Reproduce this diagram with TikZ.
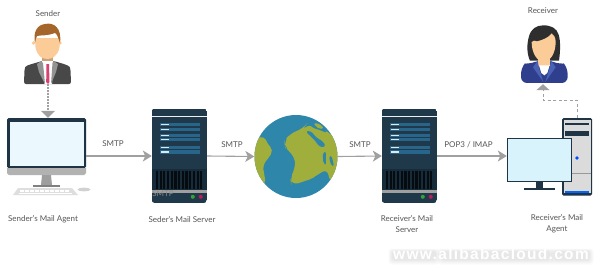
\documentclass[tikz,border=0pt]{standalone}
\usepackage{fontspec}
\setmainfont{Lato}
\newfontfamily\sitefont[LetterSpace=8.4]{Liberation Sans}
\usetikzlibrary{arrows.meta}
\definecolor{linegray}{HTML}{A0A0A0}
\definecolor{txt}{HTML}{555555}
\definecolor{navy}{HTML}{1F3444}
\definecolor{srvbody}{HTML}{20394A}
\definecolor{srvdark}{HTML}{172C3A}
\definecolor{srvrow}{HTML}{27658A}
\definecolor{ocean}{HTML}{2E86AB}
\definecolor{land}{HTML}{A0AE3C}
\definecolor{skin}{HTML}{FBCB98}
\definecolor{hairbrown}{HTML}{A5662B}
\definecolor{suitgray}{HTML}{484848}
\definecolor{suitblue}{HTML}{2F3F8E}
\definecolor{lapelblue}{HTML}{4A62B4}
\definecolor{tiepink}{HTML}{D9426F}
\tikzset{
  x=1pt,y=-1pt,
  label text/.style={font=\fontsize{8}{10}\selectfont,text=txt,align=center,inner sep=0pt},
  iconbox/.style={inner sep=0pt,minimum width=#1},
  flow/.style={draw=linegray,line width=1.1pt,-{Stealth[length=9pt,width=11pt,inset=2.5pt]}},
  fetch/.style={draw=linegray,line width=2pt,dash pattern=on 2pt off 1pt,-{Stealth[length=7pt,width=14pt,inset=0pt]}},
  notify/.style={draw=linegray,line width=.9pt,dash pattern=on 3pt off 2.5pt,-{Stealth[length=6pt,width=13pt,inset=0pt]}},
  mailserver/.pic={
    \begin{scope}
      \clip[rounded corners=2.5pt] (0,0) rectangle (55,94);
      \fill[srvbody] (0,0) rectangle (55,94);
      \fill[srvdark] (0,60) rectangle (55,81);
      \fill[white!92!srvbody] (0,7) rectangle (55,8);
      \foreach \yy in {14,18.8,24.8,29,36.8,41.2}{
        \fill[srvrow] (8,\yy) rectangle (48,\yy+3.6);
      }
      \foreach \yy in {15.5,20,26.3,30.5,38.2,42.6}{
        \fill[white!85!srvrow] (9,\yy) rectangle (17,\yy+1.1);
      }
      \foreach \i in {0,...,12}{
        \fill[black!80!srvbody] (4+\i*3.7,62) rectangle (6.2+\i*3.7,80.5);
      }
      \fill[linegray] (0,81.4) rectangle (55,84);
      \fill[green!55!black!80!white] (41,88) circle (2);
      \fill[red!60!black!70!magenta!90!white] (49,88) circle (2);
    \end{scope}
  }
}
\begin{document}
\begin{tikzpicture}
\useasboundingbox (0,0) rectangle (600,274);
\fill[white] (0,0) rectangle (600,274);

% anchor boxes for the icons
\node[iconbox=48pt,minimum height=62pt] (sender) at (48,53) {};
\node[iconbox=79pt,minimum height=76pt] (agentA) at (46.5,156) {};
\node[iconbox=55pt,minimum height=94pt] (serverA) at (179.5,156) {};
\node[circle,inner sep=0pt,minimum size=83pt] (globe) at (296,156.5) {};
\node[iconbox=55pt,minimum height=94pt] (serverB) at (409.5,156) {};
\node[iconbox=65pt,minimum height=52pt] (agentB) at (539.5,156) {};
\node[iconbox=30pt,minimum height=77pt] (tower) at (577,156.5) {};
\node[iconbox=46pt,minimum height=62pt] (receiver) at (544,53) {};

% sender figure
\fill[suitgray,rounded corners=2pt] (24,84) -- (24.5,69) .. controls (26,65) and (36,63) .. (42,61) -- (54,61) .. controls (60,63) and (69,65) .. (70.5,69) -- (71,84) -- cycle;
\fill[black!20!skin] (42,56) rectangle (53,62);
\fill[white] (42,61) -- (53,61) -- (52,84) -- (44.5,84) -- cycle;
\fill[gray!85] (41,61) -- (37,64) -- (39,72) -- (45,84) -- (43,63) -- cycle;
\fill[gray!85] (53.5,61) -- (58,64) -- (56,72) -- (51,84) -- (52.5,63) -- cycle;
\fill[tiepink] (46.5,64) -- (49,64) -- (49.5,82) -- (48,84) -- (46.2,82) -- cycle;
\fill[skin] (33.5,43) circle (1.8) (60,43) circle (1.8);
\fill[skin] (35,38) -- (60,38) -- (59.5,47) .. controls (58,56) and (52,59) .. (47.5,59) .. controls (42,59) and (37,56) .. (35.5,47) -- cycle;
\fill[hairbrown] (35,43) .. controls (33,32) and (37,25) .. (45,24) .. controls (54,22) and (62,28) .. (60,43) .. controls (58,37) and (57,34) .. (55,33) .. controls (48,36) and (40,35) .. (37,36) .. controls (36,38) and (35.5,40) .. (35,43) -- cycle;

% sender's desktop
\fill[navy,rounded corners=1.5pt] (7,118) rectangle (86,168);
\fill[white!92!cyan] (9.5,122) rectangle (83.5,165.5);
\fill[black!30] (7,168) -- (86,168) -- (86,173) -- (84,175) -- (9,175) -- (7,173) -- cycle;
\fill[black!38] (42,175) -- (51,175) -- (52,185) -- (41,185) -- cycle;
\fill[black!50] (33,185) rectangle (60,186.5);
\fill[black!13] (18,188) -- (72,188) -- (78,195) -- (13,195) -- cycle;
\foreach \i in {0,...,9}{\fill[white] (20+\i*5,189.5) rectangle (23.5+\i*5,191.5);}
\fill[white] (19,192.5) rectangle (72,193.7);
\fill[black!18] (84,189.5) ellipse (6.5 and 1.8);

% mail servers
\pic at (serverA.north west) {mailserver};
\pic at (serverB.north west) {mailserver};
\node[font=\fontsize{8}{10}\selectfont,text=black!45,inner sep=0pt] (stray) at (163,194) {SMTP};

% globe with its continents
\fill[ocean] (globe) circle (41.5);
\begin{scope}
  \clip (globe) circle (41.5);
  \begin{scope}[shift={(240,100)},x=.3333pt,y=-.3333pt]
    \fill[land,rounded corners=5pt] (35,118) -- (75,108) -- (80,130) -- (101,150) -- (85,175) -- (68,195) -- (78,255) -- (30,230) -- cycle;
    \fill[land,rounded corners=7pt] (133,125) -- (150,100) -- (190,86) -- (200,72) -- (240,85) -- (275,100) -- (300,150) -- (300,210) -- (270,250) -- (262,205) -- (222,232) -- (205,240) -- (155,256) -- (150,235) -- (166,205) -- (165,170) -- (148,155) -- (135,140) -- cycle;
    \fill[ocean,rounded corners=3pt] (196,94) -- (212,92) -- (228,112) -- (250,125) -- (258,140) -- (240,142) -- (222,118) -- cycle;
    \fill[ocean,rounded corners=2pt] (248,158) -- (258,155) -- (258,195) -- (250,190) -- cycle;
    \fill[ocean,rounded corners=2pt] (267,170) -- (275,168) -- (282,198) -- (274,198) -- cycle;
    \fill[ocean,rounded corners=3pt] (200,62) -- (220,66) -- (255,88) -- (262,100) -- (245,92) -- (215,82) -- cycle;
    \fill[land,rounded corners=2pt] (220,70) -- (236,70) -- (252,84) -- (238,88) -- cycle;
  \end{scope}
\end{scope}

% receiver's tower
\fill[navy,rounded corners=1.5pt] (562,118) rectangle (592,195.5);
\fill[black!14] (563.5,120) rectangle (590.5,193);
\fill[navy] (565,122.5) rectangle (589,125);
\fill[navy] (565,130.5) rectangle (589,135.5);
\fill[black!40] (563.5,172.5) rectangle (590.5,174);
\fill[blue!70!cyan] (577,158) circle (1.8);
\fill[blue!60!cyan] (565,191) rectangle (589,192.5);

% receiver's monitor
\fill[navy] (536,182) rectangle (543,188);
\fill[navy] (524,187.5) rectangle (555,190);
\fill[white!85!cyan,draw=navy,line width=1.2pt] (507.5,138.5) rectangle (571.5,181.5);

% receiver figure
\begin{scope}[shift={(515,18)},x=.3333pt,y=-.3333pt]
  \fill[black!82] (45,128) .. controls (34,105) and (36,75) .. (42,55) .. controls (48,32) and (65,22) .. (85,22) .. controls (108,22) and (125,30) .. (131,50) .. controls (137,70) and (136,100) .. (132,128) -- cycle;
  \fill[suitblue,rounded corners=6pt] (18,195) -- (18,150) .. controls (28,138) and (50,135) .. (68,128) -- (108,128) .. controls (125,135) and (148,138) .. (158,150) -- (158,195) -- cycle;
  \fill[skin] (70,115) rectangle (106,145);
  \fill[white] (72,142) -- (104,142) -- (97,165) -- (88,172) -- (79,165) -- cycle;
  \fill[lapelblue] (68,128) -- (54,148) -- (85,192) -- (72,150) -- cycle;
  \fill[lapelblue] (108,128) -- (122,148) -- (91,192) -- (104,150) -- cycle;
  \fill[skin] (50,72) .. controls (50,105) and (66,131) .. (86,131) .. controls (106,131) and (122,105) .. (122,72) .. controls (122,58) and (116,50) .. (110,46) .. controls (102,58) and (84,66) .. (66,70) .. controls (60,66) and (54,68) .. (50,72) -- cycle;
\end{scope}

% connectors
\draw[fetch] (sender.south) -- (sender.south |- agentA.north);
\draw[flow] (agentA.east) -- (serverA.west);
\draw[flow] (serverA.east) -- (globe.west);
\draw[flow] (globe.east) -- (serverB.west);
\draw[flow] (serverB.east) -- (agentB.west);
\draw[notify] (tower.north) |- (543,100) -- (receiver.south -| 543,85);

% labels
\node[label text] (senderlabel) at (48,14) {Sender};
\node[label text] (receiverlabel) at (543,11) {Receiver};
\node[label text] (agentAlabel) at (43,219) {Sender's Mail Agent};
\node[label text] (serverAlabel) at (182,219) {Seder's Mail Server};
\node[label text] (serverBlabel) at (407,223.5) {Receiver's Mail\\[1pt]Server};
\node[label text] (agentBlabel) at (557,223.5) {Receiver's Mail\\[1pt]Agent};
\node[label text] (smtpA) at (113,144) {SMTP};
\node[label text] (smtpB) at (232,144.5) {SMTP};
\node[label text] (smtpC) at (360,144.5) {SMTP};
\node[label text] (pop) at (468.5,144.5) {POP3 / IMAP};

% soft shadow behind the site address, one band per word
\foreach \xa/\xb in {392/436,441/550,554/590}{
  \foreach \g in {0,...,5}{
    \fill[black,opacity=.016,rounded corners=3pt] (\xa-\g*.7,251-\g*.5) rectangle (\xb+\g*.7,260+\g*.9);
  }
}
\node[font=\sitefont\bfseries\fontsize{15.5}{18}\selectfont,text=white,inner sep=0pt] (site) at (491,253.5) {www.alibabacloud.com};
\end{tikzpicture}
\end{document}
